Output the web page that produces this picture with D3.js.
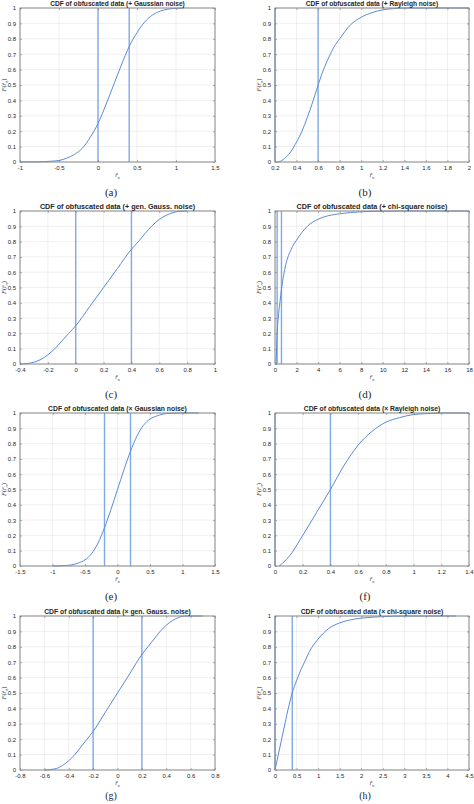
<!DOCTYPE html>
<html lang="en">
<head>
  <meta charset="UTF-8">
  <title>CDF of obfuscated data</title>
  <style>
    html, body { margin: 0; padding: 0; background: #fff; }
    #main { width: 474px; height: 804px; }
    text { font-family: Arial, "Liberation Sans", sans-serif; fill: #262626; }
  </style>
</head>
<body>
  <div id="main"></div>
  <script src="https://d3js.org/d3.v7.min.js"></script>
  <script>
    // y ticks shared by all panels
    const yTicks = [0, 0.1, 0.2, 0.3, 0.4, 0.5, 0.6, 0.7, 0.8, 0.9, 1]

    // (a) + Gaussian noise
    const aTitle = 'CDF of obfuscated data (+ Gaussian noise)'
    const aTicks = [-1, -0.5, 0, 0.5, 1, 1.5]
    const aLines = [0, 0.4]
    const aX = [-1, -0.8, -0.6, -0.5, -0.4, -0.3, -0.2, -0.1, 0, 0.1, 0.2, 0.3, 0.4, 0.5, 0.6, 0.7, 0.8, 0.9, 1, 1.1]
    const aF = [0, 0.001, 0.005, 0.01, 0.025, 0.05, 0.09, 0.16, 0.25, 0.37, 0.5, 0.63, 0.75, 0.84, 0.91, 0.955, 0.98, 0.993, 0.998, 1]

    // (b) + Rayleigh noise
    const bTitle = 'CDF of obfuscated data (+ Rayleigh noise)'
    const bTicks = [0.2, 0.4, 0.6, 0.8, 1, 1.2, 1.4, 1.6, 1.8, 2]
    const bLines = [0.2, 0.6]
    const bX = [0.22, 0.25, 0.3, 0.35, 0.4, 0.45, 0.5, 0.55, 0.6, 0.65, 0.7, 0.75, 0.8, 0.9, 1, 1.1, 1.2, 1.3, 1.4, 2]
    const bF = [0, 0.005, 0.03, 0.07, 0.13, 0.2, 0.29, 0.39, 0.5, 0.6, 0.68, 0.75, 0.8, 0.89, 0.94, 0.97, 0.988, 0.996, 1, 1]

    // (c) + generalized Gaussian noise
    const cTitle = 'CDF of obfuscated data (+ gen. Gauss. noise)'
    const cTicks = [-0.4, -0.2, 0, 0.2, 0.4, 0.6, 0.8, 1]
    const cLines = [0, 0.4]
    const cX = [-0.4, -0.35, -0.3, -0.25, -0.2, -0.15, -0.1, -0.05, 0, 0.1, 0.2, 0.3, 0.4, 0.45, 0.5, 0.55, 0.6, 0.65, 0.7, 0.75, 0.8]
    const cF = [0, 0.003, 0.012, 0.03, 0.06, 0.1, 0.15, 0.2, 0.25, 0.375, 0.5, 0.625, 0.75, 0.8, 0.855, 0.905, 0.945, 0.972, 0.99, 0.998, 1]

    // (d) + chi-square noise
    const dTitle = 'CDF of obfuscated data (+ chi-square noise)'
    const dTicks = [0, 2, 4, 6, 8, 10, 12, 14, 16, 18]
    const dLines = [0.2, 0.6]
    const dX = [0.1, 0.15, 0.2, 0.3, 0.45, 0.6, 0.8, 1, 1.5, 2, 2.5, 3, 4, 5, 6, 7, 8, 10, 12, 18]
    const dF = [0, 0.1, 0.2, 0.3, 0.4, 0.49, 0.58, 0.65, 0.75, 0.81, 0.86, 0.9, 0.946, 0.97, 0.982, 0.99, 0.995, 0.999, 1, 1]

    // (e) x Gaussian noise
    const eTitle = 'CDF of obfuscated data (\u00d7 Gaussian noise)'
    const eTicks = [-1.5, -1, -0.5, 0, 0.5, 1, 1.5]
    const eLines = [-0.2, 0.2]
    const eX = [-1, -0.8, -0.6, -0.5, -0.4, -0.3, -0.2, -0.1, 0, 0.1, 0.2, 0.3, 0.4, 0.5, 0.6, 0.7, 0.8, 1, 1.25]
    const eF = [0, 0.003, 0.02, 0.04, 0.08, 0.15, 0.25, 0.37, 0.5, 0.63, 0.75, 0.85, 0.92, 0.96, 0.98, 0.993, 0.998, 1, 1]

    // (f) x Rayleigh noise
    const fTitle = 'CDF of obfuscated data (\u00d7 Rayleigh noise)'
    const fTicks = [0, 0.2, 0.4, 0.6, 0.8, 1, 1.2, 1.4]
    const fLines = [0, 0.4]
    const fX = [0.03, 0.1, 0.2, 0.3, 0.4, 0.5, 0.6, 0.7, 0.8, 0.9, 1, 1.1, 1.2, 1.4]
    const fF = [0, 0.06, 0.2, 0.35, 0.5, 0.66, 0.79, 0.88, 0.94, 0.97, 0.99, 0.996, 1, 1]

    // (g) x generalized Gaussian noise
    const gTitle = 'CDF of obfuscated data (\u00d7 gen. Gauss. noise)'
    const gTicks = [-0.8, -0.6, -0.4, -0.2, 0, 0.2, 0.4, 0.6, 0.8]
    const gLines = [-0.2, 0.2]
    const gX = [-0.6, -0.5, -0.45, -0.4, -0.35, -0.3, -0.25, -0.2, -0.1, 0, 0.1, 0.2, 0.25, 0.3, 0.35, 0.4, 0.45, 0.5, 0.55, 0.7]
    const gF = [0, 0.01, 0.03, 0.06, 0.1, 0.15, 0.2, 0.25, 0.375, 0.5, 0.625, 0.75, 0.8, 0.85, 0.9, 0.94, 0.97, 0.99, 1, 1]

    // (h) x chi-square noise
    const hTitle = 'CDF of obfuscated data (\u00d7 chi-square noise)'
    const hTicks = [0, 0.5, 1, 1.5, 2, 2.5, 3, 3.5, 4, 4.5]
    const hLines = [0, 0.4]
    const hX = [0, 0.1, 0.2, 0.3, 0.4, 0.5, 0.6, 0.7, 0.8, 1, 1.25, 1.5, 1.75, 2, 2.5, 3, 4.2]
    const hF = [0, 0.13, 0.26, 0.39, 0.5, 0.58, 0.65, 0.71, 0.77, 0.85, 0.92, 0.955, 0.975, 0.986, 0.996, 1, 1]

    const captions = ['(a)', '(b)', '(c)', '(d)', '(e)', '(f)', '(g)', '(h)']

    const panels = [
      { title: aTitle, ticks: aTicks, lines: aLines, x: aX, f: aF },
      { title: bTitle, ticks: bTicks, lines: bLines, x: bX, f: bF },
      { title: cTitle, ticks: cTicks, lines: cLines, x: cX, f: cF },
      { title: dTitle, ticks: dTicks, lines: dLines, x: dX, f: dF },
      { title: eTitle, ticks: eTicks, lines: eLines, x: eX, f: eF },
      { title: fTitle, ticks: fTicks, lines: fLines, x: fX, f: fF },
      { title: gTitle, ticks: gTicks, lines: gLines, x: gX, f: gF },
      { title: hTitle, ticks: hTicks, lines: hLines, x: hX, f: hF }
    ]

    // layout: plot box of each column / row
    const colLeft = [20, 275]
    const colRight = [215, 469]
    const rowTop = [8, 211, 413, 616]
    const rowBottom = [162, 364, 566, 770]
    const captionY = [196, 398, 600, 799]
    const titleSize = [6.6, 6.6, 7.2, 7.2, 6.8, 6.8, 6.8, 6.8]

    const [width, height] = [474, 804]
    const svg = d3.select('#main').append('svg')
      .attr('width', width)
      .attr('height', height)
      .attr('viewBox', `0 0 ${width} ${height}`)

    const fmt = d => String(+d.toFixed(2))

    panels.forEach((p, i) => {
      const col = i % 2
      const row = Math.floor(i / 2)
      const x0 = colLeft[col], x1 = colRight[col]
      const y0 = rowTop[row], y1 = rowBottom[row]

      const xScale = d3.scaleLinear()
        .domain([p.ticks[0], p.ticks[p.ticks.length - 1]])
        .range([x0, x1])
      const yScale = d3.scaleLinear().domain([0, 1]).range([y1, y0])

      const g = svg.append('g')

      // grid
      g.append('g')
        .selectAll('line')
        .data(p.ticks)
        .join('line')
        .attr('x1', d => xScale(d)).attr('x2', d => xScale(d))
        .attr('y1', y0).attr('y2', y1)
        .attr('stroke', '#e4e4e4').attr('stroke-width', 0.6)
      g.append('g')
        .selectAll('line')
        .data(yTicks)
        .join('line')
        .attr('x1', x0).attr('x2', x1)
        .attr('y1', d => yScale(d)).attr('y2', d => yScale(d))
        .attr('stroke', '#e4e4e4').attr('stroke-width', 0.6)

      // vertical marker lines
      g.append('g')
        .selectAll('line')
        .data(p.lines)
        .join('line')
        .attr('x1', d => xScale(d)).attr('x2', d => xScale(d))
        .attr('y1', y0).attr('y2', y1)
        .attr('stroke', '#80aae6').attr('stroke-width', 1.4)

      // CDF curve
      const line = d3.line()
        .x((d, k) => xScale(p.x[k]))
        .y(d => yScale(d))
        .curve(d3.curveMonotoneX)
      g.append('path')
        .datum(p.f)
        .attr('d', line)
        .attr('fill', 'none')
        .attr('stroke', '#5a8bd8')
        .attr('stroke-width', 1)

      // axes (ticks inside, MATLAB style)
      const xAxis = d3.axisBottom(xScale).tickValues(p.ticks).tickFormat(fmt).tickSizeInner(-2).tickSizeOuter(0).tickPadding(4)
      const yAxis = d3.axisLeft(yScale).tickValues(yTicks).tickFormat(fmt).tickSizeInner(-2).tickSizeOuter(0).tickPadding(4)
      const xTop = d3.axisTop(xScale).tickValues(p.ticks).tickFormat('').tickSizeInner(-2).tickSizeOuter(0)
      const yRight = d3.axisRight(yScale).tickValues(yTicks).tickFormat('').tickSizeInner(-2).tickSizeOuter(0)

      const styleAxis = sel => {
        sel.select('.domain').remove()
        sel.selectAll('line').attr('stroke', '#777').attr('stroke-width', 0.6)
        sel.selectAll('text').style('font-size', '6px').attr('fill', '#262626')
          .style('font-family', 'Arial, "Liberation Sans", sans-serif')
      }
      g.append('g').attr('transform', `translate(0 ${y1})`).call(xAxis).call(styleAxis)
      g.append('g').attr('transform', `translate(${x0} 0)`).call(yAxis).call(styleAxis)
      g.append('g').attr('transform', `translate(0 ${y0})`).call(xTop).call(styleAxis)
      g.append('g').attr('transform', `translate(${x1} 0)`).call(yRight).call(styleAxis)

      // box
      g.append('rect')
        .attr('x', x0).attr('y', y0)
        .attr('width', x1 - x0).attr('height', y1 - y0)
        .attr('fill', 'none').attr('stroke', '#8a8a8a').attr('stroke-width', 1)

      // title
      g.append('text')
        .attr('x', (x0 + x1) / 2).attr('y', y0 - 2)
        .attr('text-anchor', 'middle')
        .style('font-size', titleSize[i] + 'px')
        .style('font-weight', 'bold')
        .text(p.title)

      // x label  r~_n
      const xl = g.append('text')
        .attr('x', (x0 + x1) / 2).attr('y', y1 + 15)
        .attr('text-anchor', 'middle')
        .style('font-size', '6px')
        .style('font-family', '"Liberation Serif", serif')
        .style('font-style', 'italic')
      xl.append('tspan').text('r\u0303')
      xl.append('tspan').attr('dy', 1.5).style('font-size', '4px').text('n')

      // y label  F(r~_n)
      const yl = g.append('text')
        .attr('transform', `translate(${x0 - 14} ${(y0 + y1) / 2}) rotate(-90)`)
        .attr('text-anchor', 'middle')
        .style('font-size', '6.5px')
        .style('font-family', '"Liberation Serif", serif')
      yl.append('tspan').style('font-style', 'italic').text('F')
      yl.append('tspan').text('(')
      yl.append('tspan').style('font-style', 'italic').text('r\u0303')
      yl.append('tspan').attr('dy', 1.5).style('font-size', '4.5px').style('font-style', 'italic').text('n')
      yl.append('tspan').attr('dy', -1.5).text(')')

      // caption
      g.append('text')
        .attr('x', col === 0 ? 111 : 365).attr('y', captionY[row])
        .attr('text-anchor', 'middle')
        .style('font-size', row === 3 ? '10px' : '11px')
        .style('font-family', '"Liberation Serif", "Times New Roman", serif')
        .text(captions[i])
    })
  </script>
</body>
</html>
